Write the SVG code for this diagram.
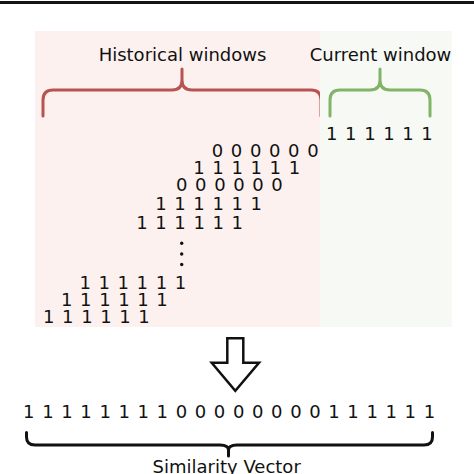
<svg xmlns="http://www.w3.org/2000/svg" width="474" height="474" viewBox="0 0 474 474">
<style>
.lbl{font-family:"DejaVu Sans","Liberation Sans",sans-serif;font-size:18px;fill:#111;text-anchor:middle}
.d{font-family:"DejaVu Sans","Liberation Sans",sans-serif;font-size:18px;fill:#111;letter-spacing:0.95px}
.br{fill:none;stroke-width:3;stroke-linecap:round;stroke-linejoin:round}
</style>
<rect x="0" y="0" width="474" height="474" fill="#ffffff"/>
<rect x="0" y="1" width="474" height="3" fill="#151515"/>
<g id="historical-windows">
<rect x="35" y="31" width="285" height="296" fill="#fdf1f0"/>
<path class="br" stroke="#b85450" d="M43,116 V100 Q43,90 53,90 H172 Q182,90 182,80 V69 V80 Q182,90 192,90 H311 Q321,90 321,100 V116"/>
<text class="lbl" x="182.5" y="61">Historical windows</text>
</g>
<g id="current-window">
<rect x="320" y="31" width="132" height="296" fill="#f7f9f5"/>
<path class="br" stroke="#82b366" d="M330,116 V100 Q330,90 340,90 H370 Q380,90 380,80 V69 V80 Q380,90 390,90 H420 Q430,90 430,100 V116"/>
<text class="lbl" x="380.5" y="61">Current window</text>
<text class="d" x="326" y="139.5">1 1 1 1 1 1</text>
</g>
<g id="window-rows">
<text class="d" x="211.8" y="156.5">0 0 0 0 0 0</text>
<text class="d" x="193.3" y="173.5">1 1 1 1 1 1</text>
<text class="d" x="176" y="191">0 0 0 0 0 0</text>
<text class="d" x="155.2" y="210">1 1 1 1 1 1</text>
<text class="d" x="136.2" y="228.5">1 1 1 1 1 1</text>
<circle cx="181.7" cy="243.3" r="1.7" fill="#111"/>
<circle cx="181.7" cy="254" r="1.7" fill="#111"/>
<circle cx="181.7" cy="264.5" r="1.7" fill="#111"/>
<text class="d" x="79.4" y="289">1 1 1 1 1 1</text>
<text class="d" x="61" y="306">1 1 1 1 1 1</text>
<text class="d" x="43" y="323">1 1 1 1 1 1</text>
</g>
<g id="connectors">
<polygon points="227.3,338.3 243.3,338.3 243.3,362.7 259,362.7 235.3,390.7 211.7,362.7 227.3,362.7" fill="#ffffff" stroke="#111" stroke-width="2.5" stroke-linejoin="miter"/>
</g>
<g id="similarity-vector">
<text class="d" x="23.1" y="417.5">1 1 1 1 1 1 1 1 0 0 0 0 0 0 0 0 1 1 1 1 1 1</text>
<path class="br" stroke="#111" stroke-width="2.5" d="M26.5,432.5 V437 Q26.5,445 35,445 H220 Q228.5,445 228.5,450 V456 V450 Q228.5,445 237,445 H424 Q432.5,445 432.5,437 V432.5"/>
<text class="lbl" x="226.7" y="473">Similarity Vector</text>
</g>
</svg>
